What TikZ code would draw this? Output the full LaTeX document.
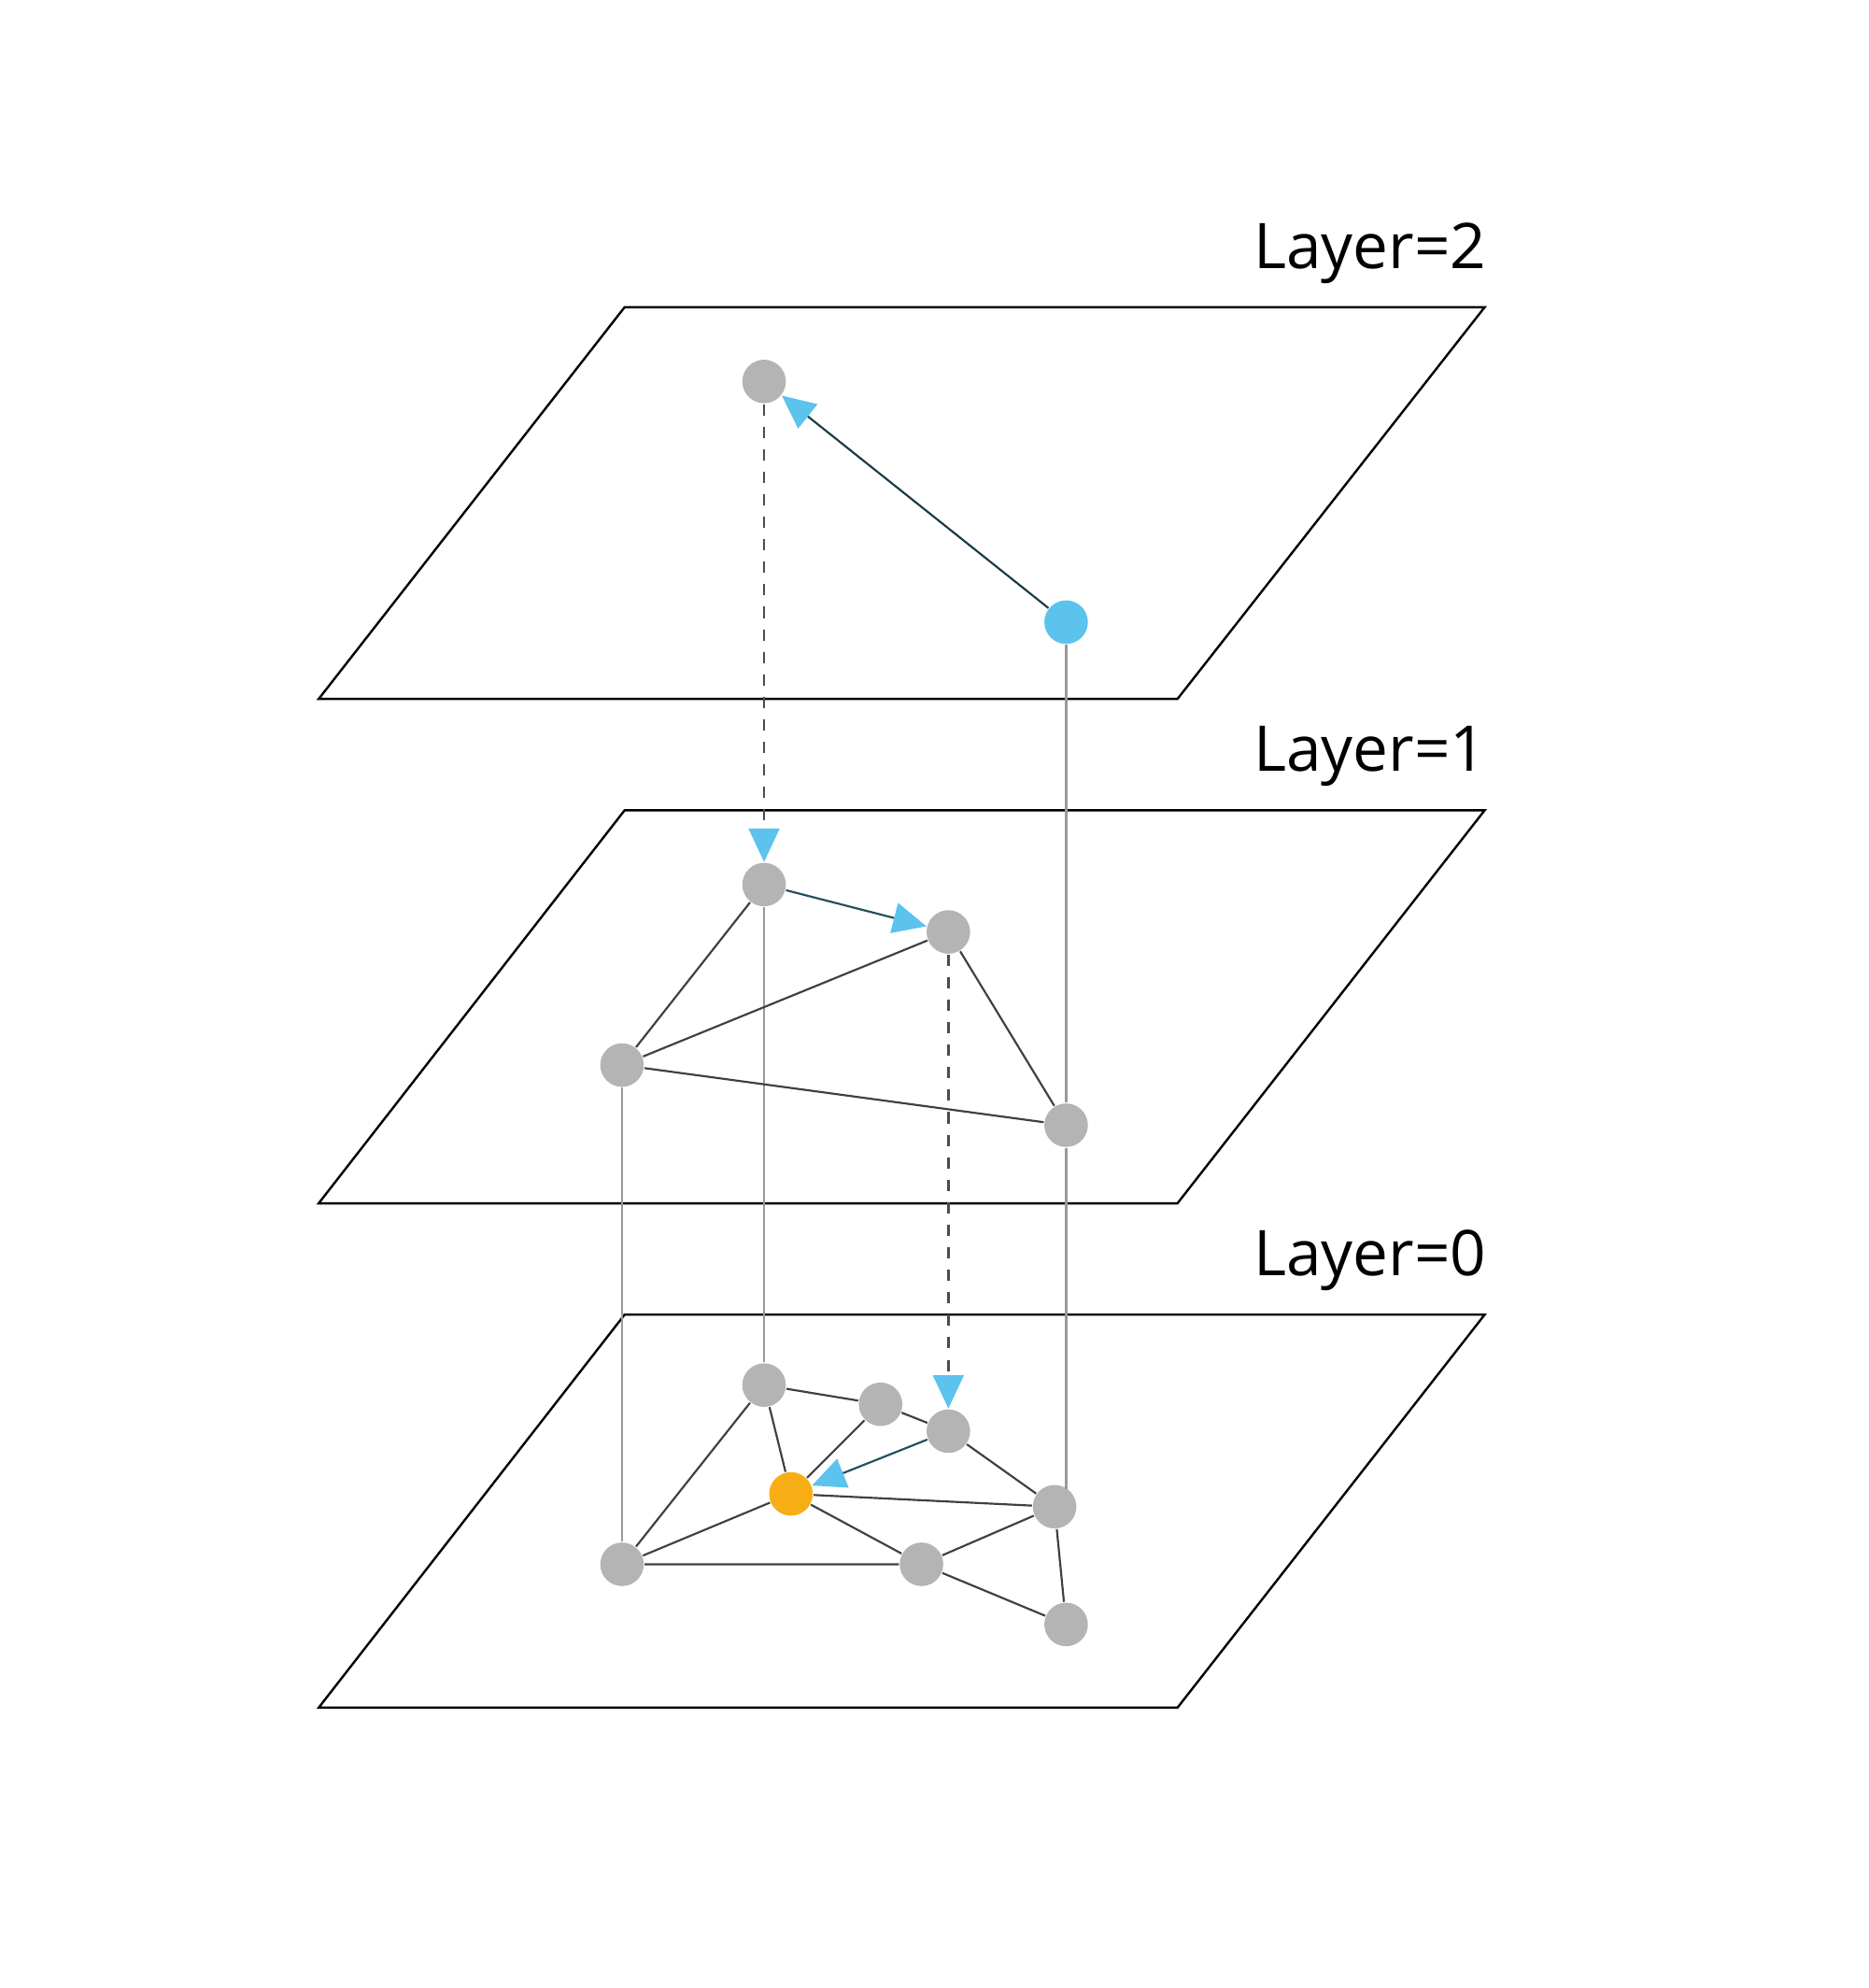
\documentclass[tikz,border=0pt]{standalone}
\usepackage{fontspec}
\setmainfont{Open Sans}
\usetikzlibrary{arrows.meta}
\definecolor{nodegray}{HTML}{B4B4B4}
\definecolor{skyb}{HTML}{5CC3EC}
\definecolor{orng}{HTML}{F7AE14}
\begin{document}
\begin{tikzpicture}[x=0.01cm,y=-0.01cm,
  nd/.style={circle,fill=nodegray,minimum size=0.34cm,inner sep=0pt},
  edge/.style={draw=black!75,line width=0.45pt},
  vline/.style={draw=black!40,line width=0.45pt},
  dline/.style={draw=black!70,line width=0.5pt,dash pattern=on 2.5pt off 2.5pt},
  arr/.style={-{Triangle[length=0.26cm,width=0.24cm,fill=skyb,color=skyb]}},
  plane/.style={draw=black,line width=0.5pt},
  lbl/.style={anchor=south east,inner sep=0pt,font=\fontsize{14}{16}\selectfont}]
\useasboundingbox (0,0) rectangle (1460,1553);
\foreach \t/\b/\n in {240/546/2,633/940/1,1027/1334/0}{
  \draw[plane] (488,\t) -- (1160,\t) -- (920,\b) -- (249,\b) -- cycle;
  \node[lbl] at (1162,\t-18) {Layer=\n};
}
\node[nd] (A2) at (597,298) {};
\node[nd,fill=skyb] (B2) at (833,486) {};
\node[nd] (a) at (597,691) {};
\node[nd] (b) at (741,728) {};
\node[nd] (c) at (486,832) {};
\node[nd] (d) at (833,879) {};
\node[nd] (p) at (597,1082) {};
\node[nd] (q) at (688,1097) {};
\node[nd] (r) at (741,1118) {};
\node[nd,fill=orng] (o) at (618,1167) {};
\node[nd] (s) at (824,1177) {};
\node[nd] (t) at (486,1222) {};
\node[nd] (u) at (720,1222) {};
\node[nd] (v) at (833,1269) {};
\coordinate (sv) at (833,1163);
\draw[vline] (B2) -- (d);
\draw[vline] (d) -- (sv);
\draw[vline] (a) -- (p);
\draw[vline] (c) -- (t);
\draw[dline,arr] (A2) -- (a);
\draw[dline,arr] (b) -- (r);
\draw[edge,draw=black!70!skyb,arr] (B2) -- (A2);
\draw[edge,draw=black!60!skyb,arr] (a) -- (b);
\draw[edge] (a) -- (c) (c) -- (b) (b) -- (d) (c) -- (d);
\draw[edge] (p) -- (q) (q) -- (r) (p) -- (o) (p) -- (t) (q) -- (o)
  (r) -- (s) (o) -- (s) (o) -- (t) (o) -- (u) (t) -- (u) (u) -- (s) (u) -- (v) (s) -- (v);
\draw[edge,draw=black!60!skyb,arr] (r) -- (o);
\end{tikzpicture}
\end{document}
